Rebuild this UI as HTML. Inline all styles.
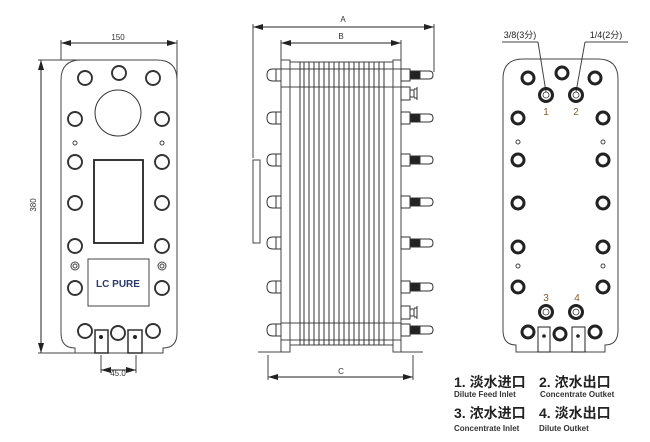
<!DOCTYPE html>
<html><head><meta charset="utf-8"><style>
html,body{margin:0;padding:0;background:#fff;}
svg{display:block;}
text{font-family:"Liberation Sans","Noto Sans CJK SC",sans-serif;}
</style></head><body>
<svg width="650" height="442" viewBox="0 0 650 442" xmlns="http://www.w3.org/2000/svg">
<defs>
<marker id="ar" markerWidth="10" markerHeight="6" refX="10" refY="3" orient="auto-start-reverse" markerUnits="userSpaceOnUse"><path d="M0,0 L10,3 L0,6 z" fill="#222"/></marker>
</defs>
<!-- LEFT VIEW -->
<g fill="none" stroke="#444" stroke-width="1">
<path d="M61,80 Q61,60 81,60 L157,60 Q177,60 177,80 L177,333 Q177,348 163,348 L163,353 L75,353 L75,348 Q61,348 61,333 Z"/>
<line x1="61" y1="43" x2="177" y2="43" marker-start="url(#ar)" marker-end="url(#ar)" stroke="#222"/>
<line x1="61" y1="40" x2="61" y2="60"/><line x1="177" y1="40" x2="177" y2="78"/>
<line x1="41" y1="60" x2="41" y2="353" marker-start="url(#ar)" marker-end="url(#ar)" stroke="#222"/>
<line x1="38" y1="60" x2="81" y2="60"/><line x1="38" y1="353" x2="75" y2="353"/>
<line x1="101" y1="355" x2="101" y2="373"/><line x1="136" y1="355" x2="136" y2="373"/>
<line x1="101" y1="370" x2="136" y2="370" marker-start="url(#ar)" marker-end="url(#ar)" stroke="#222"/>
<g stroke="#333" stroke-width="1.9">
<circle cx="85" cy="78" r="7"/><circle cx="119" cy="73" r="7"/><circle cx="153" cy="78" r="7"/>
<circle cx="75" cy="119" r="7"/><circle cx="162" cy="119" r="7"/>
<circle cx="75" cy="162" r="7"/><circle cx="162" cy="162" r="7"/>
<circle cx="75" cy="203" r="7"/><circle cx="162" cy="203" r="7"/>
<circle cx="75" cy="246" r="7"/><circle cx="162" cy="246" r="7"/>
<circle cx="75" cy="288" r="7"/><circle cx="162" cy="288" r="7"/>
<circle cx="85" cy="331" r="7"/><circle cx="118" cy="333" r="7"/><circle cx="153" cy="331" r="7"/>
</g>
<circle cx="118" cy="113" r="23" stroke="#333"/>
<circle cx="75" cy="143" r="2"/><circle cx="162" cy="143" r="2"/>
<circle cx="75" cy="266" r="4"/><circle cx="75" cy="266" r="2"/>
<circle cx="162" cy="266" r="4"/><circle cx="162" cy="266" r="2"/>
<rect x="94" y="160" width="49" height="83" stroke="#222" stroke-width="1.8"/>
<rect x="88" y="259" width="61" height="47"/>
<rect x="95" y="330" width="13" height="23" stroke-width="1.4" stroke="#222"/>
<rect x="128" y="330" width="14" height="23" stroke-width="1.4" stroke="#222"/>
</g>
<circle cx="101" cy="337" r="2" fill="#222"/><circle cx="135" cy="337" r="2" fill="#222"/>
<text x="118" y="40" font-size="8" text-anchor="middle" fill="#333">150</text>
<text x="0" y="0" font-size="8" text-anchor="middle" fill="#333" transform="translate(36,205) rotate(-90)">380</text>
<text x="118" y="376" font-size="8" text-anchor="middle" fill="#333">45.0</text>
<text x="118" y="287" font-size="10" text-anchor="middle" fill="#2a3a6a" font-weight="bold">LC PURE</text>

<!-- MIDDLE VIEW -->
<g fill="none" stroke="#444" stroke-width="1">
<line x1="253" y1="27" x2="434" y2="27" marker-start="url(#ar)" marker-end="url(#ar)" stroke="#222"/>
<line x1="253" y1="24" x2="253" y2="158"/><line x1="434" y1="24" x2="434" y2="72"/>
<line x1="281" y1="43" x2="401" y2="43" marker-start="url(#ar)" marker-end="url(#ar)" stroke="#222"/>
<line x1="281" y1="40" x2="281" y2="60"/><line x1="401" y1="40" x2="401" y2="60"/>
<line x1="268" y1="377" x2="413" y2="377" marker-start="url(#ar)" marker-end="url(#ar)" stroke="#222"/>
<line x1="268" y1="355" x2="268" y2="380"/><line x1="413" y1="355" x2="413" y2="380"/>
<line x1="258" y1="352" x2="281" y2="352"/><line x1="401" y1="352" x2="423" y2="352"/>
<rect x="281" y="60" width="9" height="292"/>
<rect x="393" y="60" width="8" height="292"/>
<rect x="290" y="62" width="103" height="283"/>
<line x1="281" y1="69" x2="401" y2="69"/><line x1="281" y1="87" x2="401" y2="87"/>
<line x1="281" y1="323" x2="401" y2="323"/><line x1="281" y1="340" x2="401" y2="340"/>
<rect x="253" y="160" width="7" height="83"/>
</g>
<g stroke="#333" stroke-width="1">
<line x1="300" y1="62" x2="300" y2="345"/><line x1="304" y1="62" x2="304" y2="345"/>
<line x1="309" y1="62" x2="309" y2="345"/><line x1="314" y1="62" x2="314" y2="345"/>
<line x1="319" y1="62" x2="319" y2="345"/><line x1="324" y1="62" x2="324" y2="345"/>
<line x1="329" y1="62" x2="329" y2="345"/><line x1="334" y1="62" x2="334" y2="345"/>
<line x1="339" y1="62" x2="339" y2="345"/><line x1="344" y1="62" x2="344" y2="345"/>
<line x1="349" y1="62" x2="349" y2="345"/><line x1="354" y1="62" x2="354" y2="345"/>
<line x1="359" y1="62" x2="359" y2="345"/><line x1="364" y1="62" x2="364" y2="345"/>
<line x1="369" y1="62" x2="369" y2="345"/><line x1="374" y1="62" x2="374" y2="345"/>
<line x1="379" y1="62" x2="379" y2="345"/><line x1="384" y1="62" x2="384" y2="345"/>
</g>
<g fill="none" stroke="#333" stroke-width="1">
<path d="M281,69 L273,69 Q267,69 267,75 Q267,81 273,81 L281,81 M276,69 L276,81"/>
<path d="M281,112 L273,112 Q267,112 267,118 Q267,124 273,124 L281,124 M276,112 L276,124"/>
<path d="M281,154 L273,154 Q267,154 267,160 Q267,166 273,166 L281,166 M276,154 L276,166"/>
<path d="M281,196 L273,196 Q267,196 267,202 Q267,208 273,208 L281,208 M276,196 L276,208"/>
<path d="M281,237 L273,237 Q267,237 267,243 Q267,249 273,249 L281,249 M276,237 L276,249"/>
<path d="M281,281 L273,281 Q267,281 267,287 Q267,293 273,293 L281,293 M276,281 L276,293"/>
<path d="M281,324 L273,324 Q267,324 267,330 Q267,336 273,336 L281,336 M276,324 L276,336"/>
</g>
<g fill="none" stroke="#333" stroke-width="1">
<g id="rf"><rect x="401" y="69" width="9" height="12"/><rect x="410" y="71" width="10" height="8" fill="#222"/><path d="M420,71 L429,71 Q433,71 433,75 Q433,79 429,79 L420,79"/></g>
<use href="#rf" y="43"/><use href="#rf" y="85"/><use href="#rf" y="127"/><use href="#rf" y="168"/><use href="#rf" y="212"/><use href="#rf" y="255"/>
<g id="vv"><rect x="401" y="87" width="9" height="13"/><rect x="410" y="90" width="4" height="7"/><path d="M414,89 L417,89 L417,98 L414,98 M417,87 L417,100"/></g>
<use href="#vv" y="219"/>
</g>
<text x="343" y="22" font-size="8" text-anchor="middle" fill="#333">A</text>
<text x="341" y="39" font-size="8" text-anchor="middle" fill="#333">B</text>
<text x="341" y="374" font-size="8" text-anchor="middle" fill="#333">C</text>

<!-- RIGHT VIEW -->
<g fill="none" stroke="#444" stroke-width="1">
<path d="M503,79 Q503,59 523,59 L598,59 Q618,59 618,79 L618,330 Q618,345 605,345 L605,352 L516,352 L516,345 Q503,345 503,330 Z"/>
<line x1="502" y1="42" x2="538" y2="42"/><line x1="538" y1="42" x2="546" y2="92"/>
<line x1="585" y1="42" x2="628" y2="42"/><line x1="585" y1="42" x2="576" y2="92"/>
<circle cx="518" cy="142" r="2"/><circle cx="603" cy="142" r="2"/>
<circle cx="518" cy="266" r="2"/><circle cx="603" cy="266" r="2"/>
<rect x="538" y="327" width="12" height="25" stroke="#222"/><rect x="572" y="327" width="13" height="25" stroke="#222"/>
</g>
<g fill="none" stroke="#222" stroke-width="3">
<circle cx="528" cy="78" r="6"/><circle cx="562" cy="73" r="6"/><circle cx="595" cy="78" r="6"/>
<circle cx="518" cy="118" r="6"/><circle cx="603" cy="118" r="6"/>
<circle cx="518" cy="160" r="6"/><circle cx="603" cy="160" r="6"/>
<circle cx="518" cy="203" r="6"/><circle cx="603" cy="203" r="6"/>
<circle cx="518" cy="247" r="6"/><circle cx="603" cy="247" r="6"/>
<circle cx="518" cy="287" r="6"/><circle cx="603" cy="287" r="6"/>
<circle cx="528" cy="332" r="6"/><circle cx="560" cy="334" r="6"/><circle cx="595" cy="332" r="6"/>
<circle cx="546" cy="95" r="6.5"/><circle cx="576" cy="95" r="6.5"/>
<circle cx="546" cy="312" r="6.5"/><circle cx="576" cy="312" r="6.5"/>
</g>
<g fill="none" stroke="#333" stroke-width="0.8">
<circle cx="546" cy="95" r="3"/><circle cx="576" cy="95" r="3"/><circle cx="546" cy="312" r="3"/><circle cx="576" cy="312" r="3"/>
</g>
<circle cx="544" cy="336" r="1.8" fill="#222"/><circle cx="578" cy="336" r="1.8" fill="#222"/>
<text x="520" y="38" font-size="9" text-anchor="middle" fill="#222">3/8(3分)</text>
<text x="606" y="38" font-size="9" text-anchor="middle" fill="#222">1/4(2分)</text>
<g font-size="10" fill="#8a5a2a" text-anchor="middle">
<text x="546" y="115">1</text><text x="576" y="115">2</text>
<text x="546" y="301">3</text><text x="577" y="301">4</text>
</g>

<!-- LEGEND -->
<g fill="#222">
<text x="454" y="387" font-size="14" font-weight="bold">1. 淡水进口</text>
<text x="539" y="387" font-size="14" font-weight="bold">2. 浓水出口</text>
<text x="454" y="397" font-size="8" font-weight="bold" fill="#333">Dilute Feed Inlet</text>
<text x="540" y="397" font-size="8" font-weight="bold" fill="#333">Concentrate Outket</text>
<text x="454" y="418" font-size="14" font-weight="bold">3. 浓水进口</text>
<text x="539" y="418" font-size="14" font-weight="bold">4. 淡水出口</text>
<text x="454" y="431" font-size="8" font-weight="bold" fill="#333">Concentrate Inlet</text>
<text x="539" y="431" font-size="8" font-weight="bold" fill="#333">Dilute Outket</text>
</g>
</svg>
</body></html>
